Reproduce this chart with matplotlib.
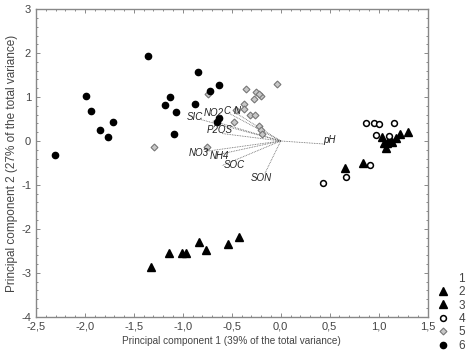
import matplotlib.pyplot as plt
from matplotlib.ticker import MultipleLocator, FuncFormatter

plt.rcParams['font.family'] = ['Liberation Sans', 'DejaVu Sans']

# group 6 - filled circles
g6_x = [-1.99, -1.935, -1.85, -1.76, -1.71, -2.31, -1.36, -0.85, -0.63, -0.72,
        -1.18, -1.135, -1.07, -0.875, -1.09, -0.63, -0.65]
g6_y = [1.03, 0.69, 0.26, 0.10, 0.43, -0.31, 1.93, 1.57, 1.28, 1.13,
        0.83, 1.01, 0.65, 0.84, 0.16, 0.52, 0.43]

# group 5 - gray diamonds
g5_x = [-0.04, -0.35, -0.25, -0.20, -0.22, -0.74, -0.27, -0.375, -0.38, -0.46,
        -0.31, -0.26, -0.48, -0.22, -0.20, -0.19, -1.29, -0.75]
g5_y = [1.29, 1.18, 1.12, 1.03, 1.06, 1.06, 0.95, 0.84, 0.72, 0.71,
        0.59, 0.59, 0.44, 0.34, 0.25, 0.17, -0.13, -0.13]

# group 4 - open circles
g4_x = [0.875, 0.95, 1.005, 1.16, 0.97, 1.11, 0.91, 0.67, 0.43]
g4_y = [0.40, 0.40, 0.38, 0.42, 0.14, 0.11, -0.54, -0.83, -0.96]

# group 3 - triangles (bottom cluster)
g3_x = [-1.33, -1.145, -1.005, -0.965, -0.835, -0.763, -0.54, -0.43]
g3_y = [-2.88, -2.56, -2.56, -2.56, -2.31, -2.48, -2.34, -2.18]

# group 2 - triangles (right cluster)
g2_x = [0.66, 0.84, 1.03, 1.30, 1.22, 1.175, 1.14, 1.09, 1.05, 1.08, 1.11]
g2_y = [-0.61, -0.51, 0.10, 0.20, 0.17, 0.06, -0.02, -0.05, -0.05, -0.17, 0.02]

# variable loadings
var_names = ['SIC', 'NO2', 'C', 'N', 'P2OS', 'NO3', 'NH4', 'SOC', 'SON', 'pH']
var_x = [-0.82, -0.70, -0.52, -0.46, -0.60, -0.78, -0.66, -0.60, -0.16, 0.45]
var_y = [0.49, 0.46, 0.62, 0.64, 0.17, -0.24, -0.32, -0.56, -0.73, -0.07]
lab_x = [-0.96, -0.79, -0.59, -0.48, -0.76, -0.94, -0.73, -0.58, -0.31, 0.43]
lab_y = [0.47, 0.56, 0.62, 0.62, 0.19, -0.34, -0.40, -0.61, -0.90, -0.05]

fig = plt.figure(figsize=(4.74, 3.55), dpi=100)
ax = fig.add_axes([0.076, 0.108, 0.826, 0.866])

for vx, vy in zip(var_x, var_y):
    ax.plot([0, vx], [0, vy], color='#666666', lw=0.6, ls=(0, (1, 1)), zorder=1)
for name, tx, ty in zip(var_names, lab_x, lab_y):
    ax.text(tx, ty, name, fontsize=7, style='italic', color='#222222', zorder=4)

ax.plot([], [], ls='none', marker='none', label='1')
ax.plot(g2_x, g2_y, ls='none', marker='^', ms=5.5, color='black', label='2', zorder=3)
ax.plot(g3_x, g3_y, ls='none', marker='^', ms=5.5, color='black', label='3', zorder=3)
ax.plot(g4_x, g4_y, ls='none', marker='o', ms=4.2, mfc='white', mec='black', mew=1.1,
        label='4', zorder=3)
ax.plot(g5_x, g5_y, ls='none', marker='D', ms=3.5, mfc='#c8c8c8', mec='#777777', mew=0.8,
        label='5', zorder=3)
ax.plot(g6_x, g6_y, ls='none', marker='o', ms=4.5, color='black', label='6', zorder=3)

ax.set_xlim(-2.5, 1.5)
ax.set_ylim(-4, 3)
ax.xaxis.set_major_locator(MultipleLocator(0.5))
ax.xaxis.set_minor_locator(MultipleLocator(0.1))
ax.yaxis.set_major_locator(MultipleLocator(1))
ax.yaxis.set_minor_locator(MultipleLocator(0.2))
ax.xaxis.set_major_formatter(FuncFormatter(lambda v, p: f'{v:.1f}'.replace('.', ',')))
ax.yaxis.set_major_formatter(FuncFormatter(lambda v, p: f'{v:.0f}'))
ax.tick_params(which='both', direction='in', top=True, right=True, color='#777777',
               labelsize=8, labelcolor='#444444', width=0.6)
ax.tick_params(which='major', length=3)
ax.tick_params(which='minor', length=1.5)
for s in ax.spines.values():
    s.set_color('#888888')
    s.set_linewidth(1.0)

ax.set_xlabel('Principal component 1 (39% of the total variance)', fontsize=7.2,
              color='#444444', labelpad=3)
ax.set_ylabel('Principal component 2 (27% of the total variance)', fontsize=8.5,
              color='#444444', labelpad=2)

leg = ax.legend(loc='upper left', bbox_to_anchor=(0.915, 0.245), bbox_transform=fig.transFigure,
                frameon=False, fontsize=8.5, handlelength=0.8, handletextpad=0.9,
                labelspacing=0.12, borderaxespad=0)
for t in leg.get_texts():
    t.set_color('#444444')

fig.savefig('out.png', dpi=100)
